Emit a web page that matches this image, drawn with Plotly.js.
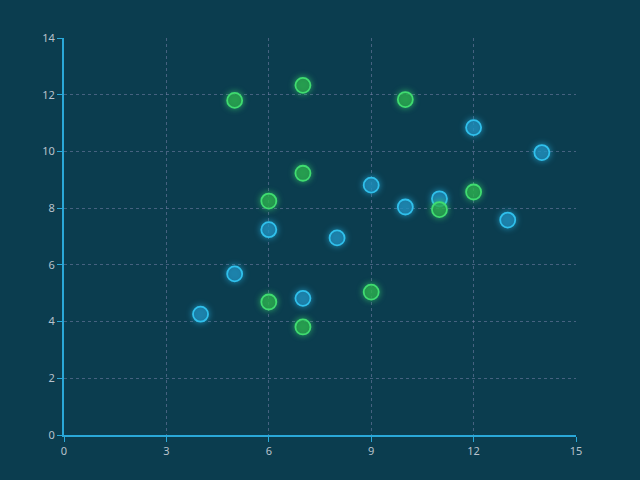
<!DOCTYPE html>
<html><head><meta charset="utf-8">
<script src="https://cdn.plot.ly/plotly-3.0.1.min.js"></script>
<style>
html,body{margin:0;padding:0;width:640px;height:480px;overflow:hidden;background:#0b3d4f;}
#chart{width:640px;height:480px;}
.g1 .point{filter:drop-shadow(0 0 3px rgba(60,230,110,0.8));}
.g2 .point{filter:drop-shadow(0 0 3px rgba(40,190,240,0.8));}
</style></head><body><div id="chart"></div>
<script>
const greenX = [5, 7, 10, 7, 6, 12, 11, 6, 9, 7];
const greenY = [11.8, 12.33, 11.83, 9.23, 8.25, 8.57, 7.95, 4.69, 5.04, 3.81];
const blueX = [10, 8, 13, 9, 11, 14, 6, 4, 12, 7, 5];
const blueY = [8.04, 6.95, 7.58, 8.81, 8.33, 9.96, 7.24, 4.26, 10.84, 4.82, 5.68];
const xTicks = [0, 3, 6, 9, 12, 15];
const yTicks = [0, 2, 4, 6, 8, 10, 12, 14];

const traces = [
  {x: blueX, y: blueY, type:'scatter', mode:'markers', name:'B',
   marker:{size:15, color:'rgba(30,130,175,0.65)', line:{color:'#30c0ec', width:1.8}}},
  {x: greenX, y: greenY, type:'scatter', mode:'markers', name:'A',
   marker:{size:15, color:'rgba(40,160,70,0.65)', line:{color:'#40dc70', width:1.8}}}
];
const axisCommon = {
  showline:true, linecolor:'#2aa8d8', linewidth:2, ticks:'outside', ticklen:5, tickcolor:'#2aa8d8',
  showgrid:true, gridcolor:'rgba(120,130,170,0.55)', griddash:'dot', gridwidth:1, zeroline:false,
  tickfont:{family:'Noto Sans, DejaVu Sans, sans-serif', size:11, color:'#b8c2cc'}, fixedrange:true
};
const layout = {
  width:640, height:480, showlegend:false,
  paper_bgcolor:'#0b3d4f', plot_bgcolor:'#0b3d4f',
  margin:{l:64, r:64, t:38, b:45},
  xaxis:Object.assign({}, axisCommon, {range:[0,15], tickvals:xTicks, ticktext:xTicks.map(String)}),
  yaxis:Object.assign({}, axisCommon, {range:[0,14], tickvals:yTicks, ticktext:yTicks.map(String)})
};
Plotly.newPlot('chart', traces, layout, {displayModeBar:false, staticPlot:true}).then(function(){
  const groups = document.querySelectorAll('.scatterlayer .trace');
  if (groups[0]) groups[0].classList.add('g2');
  if (groups[1]) groups[1].classList.add('g1');
});
</script></body></html>
